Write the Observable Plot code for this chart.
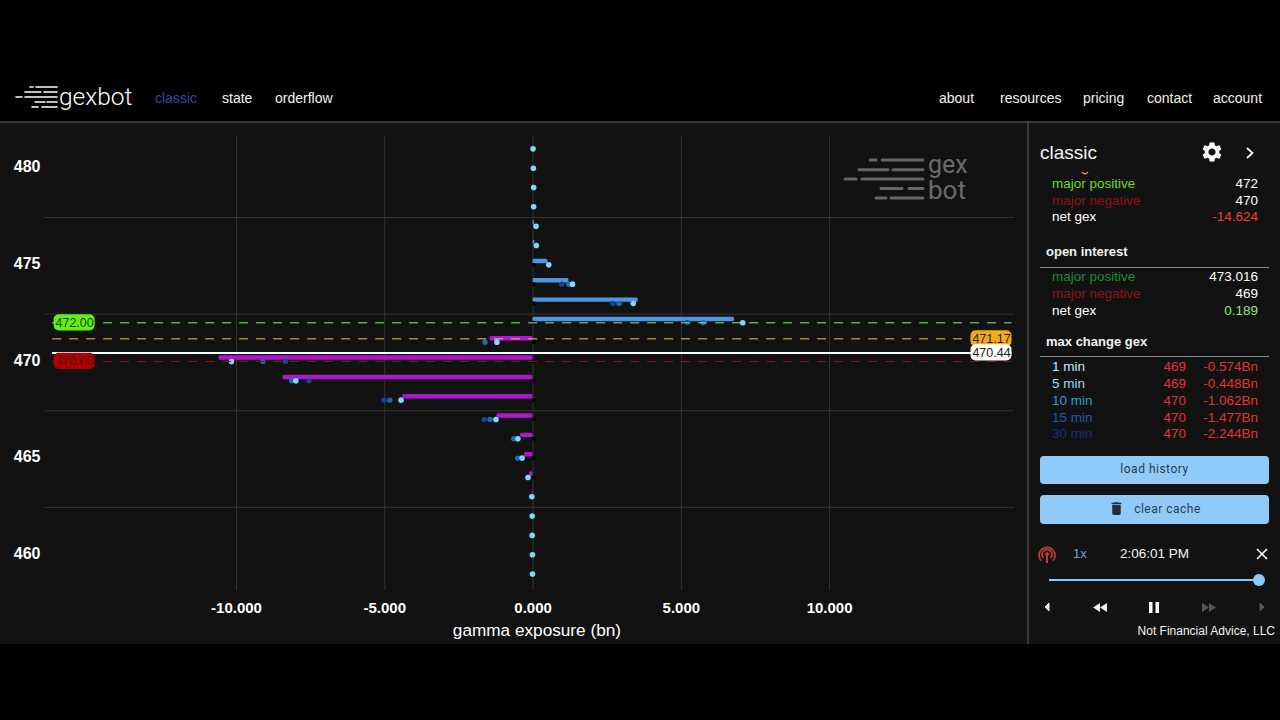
<!DOCTYPE html>
<html>
<head>
<meta charset="utf-8">
<script src="https://cdn.jsdelivr.net/npm/d3@7"></script>
<script src="https://cdn.jsdelivr.net/npm/@observablehq/plot@0.6"></script>
<style>
html,body{margin:0;padding:0;background:#000;width:1280px;height:720px;overflow:hidden;font-family:"Liberation Sans",Arial,sans-serif;color:#fff}
.abs{position:absolute;white-space:nowrap}
#chartbg{position:absolute;left:0;top:123px;width:1280px;height:521px;background:#121212}
#hr{position:absolute;left:0;top:121px;width:1280px;height:2px;background:#3a3a3a}
#vr{position:absolute;left:1027px;top:123px;width:2px;height:521px;background:#3a3a3a}
#chart{position:absolute;left:0;top:123px;width:1028px;height:521px}
#chart svg{background:transparent;display:block}
.nav{font-size:14px;line-height:16px;color:#f2f2f2}
.row{font-size:13.5px;line-height:16px}
.head{font-size:13px;line-height:16px;font-weight:bold;left:1046px;color:#f2f2f2}
.rule{position:absolute;left:1040px;width:229px;height:1px;background:#8a8a8a}
.btn{position:absolute;left:1040px;width:229px;background:#90caf9;border-radius:4px;color:#2b3c4e;font:12px Roboto,sans-serif;letter-spacing:.5px;display:flex;align-items:center;justify-content:center;gap:9px;padding-bottom:2px;box-sizing:border-box}
</style>
</head>
<body>
<div id="chartbg"></div><div id="hr"></div><div id="vr"></div>
<div id="chart"></div>
<div id="ui"></div>
<script>
// ---------- chart data ----------
const strikes   = [481,480,479,478,477,476,475,474,473,472,471,470,469,468,467,466,465,464,463,462,461,460,459];
const netGex    = [0,0,0,0,0.05,0.06,0.5,1.21,3.55,6.79,-1.45,-10.59,-8.43,-4.39,-1.22,-0.42,-0.29,-0.12,-0.03,0,0,0,0];
const dotsFast  = [0,0.01,0.02,0.02,0.1,0.11,0.53,1.33,3.38,7.07,-1.22,-10.17,-8.0,-4.45,-1.25,-0.51,-0.37,-0.17,-0.04,-0.03,-0.03,-0.02,-0.02];
const dotsMid   = [null,null,null,null,null,null,null,1.2,2.9,5.74,-1.62,-9.11,-8.14,-4.83,-1.45,-0.65,-0.52,null,null,null,null,null,null];
const dotsSlow  = [null,null,null,null,null,null,null,0.97,2.69,5.2,null,-8.35,-7.56,-5.03,-1.65,null,null,null,null,null,null,null,null];
const zeroMarks = [475,474,473,472,471,470,469,468,467,466,465,464];
const xTicks    = [-10,-5,0,5,10];
const yTicks    = [460,465,470,475,480];
const yGrid     = [477.45,472.45,467.45,462.45];
const levels    = [
  {value:472,    color:"#8df07c", dash:"9,8"},
  {value:471.17, color:"#f2bc78", dash:"9,8"},
  {value:470.44, color:"#ffffff", dash:null},
  {value:470,    color:"#8a1414", dash:"9,8"}
];
const pills = [
  {value:472,    side:-1, label:"472.00", bg:"#66ee11", fg:"#14500a"},
  {value:470,    side:-1, label:"470.00", bg:"#b00000", fg:"#560000"},
  {value:471.17, side: 1, label:"471.17", bg:"#f5ac14", fg:"#222222"},
  {value:470.44, side: 1, label:"470.44", bg:"#ffffff", fg:"#222222"}
];

// ---------- panel data ----------
const gammaRows = [
  ["major positive","472","#66dd22","#fff",184],
  ["major negative","470","#8c1212","#fff",201],
  ["net gex","-14.624","#fff","#f03c3c",217]
];
const oiRows = [
  ["major positive","473.016","#1f8a2f","#fff",277],
  ["major negative","469","#8c1518","#fff",294],
  ["net gex","0.189","#fff","#86ec86",311]
];
const changeLabels  = ["1 min","5 min","10 min","15 min","30 min"];
const changeColors  = ["#cfe6f7","#95dcf0","#2f97d4","#1a5cae","#14307a"];
const changeStrikes = ["469","469","470","470","470"];
const changeValues  = ["-0.574Bn","-0.448Bn","-1.062Bn","-1.477Bn","-2.244Bn"];
const changeY       = [367,384,401,418,434];
const navLeft  = [["classic",155,"#2c4ea0"],["state",222,"#f2f2f2"],["orderflow",275,"#f2f2f2"]];
const navRight = [["about",939],["resources",1000],["pricing",1083],["contact",1147],["account",1213]];

// ---------- chart ----------
const rows = strikes.map((s,i)=>({strike:s,gex:netGex[i]}));
const bars = rows.filter(d=>d.gex!==0);
const dotSeries = (vals)=>strikes.map((s,i)=>({strike:s,v:vals[i]})).filter(d=>d.v!==null);
const gridColor = "#333333";
const plot = Plot.plot({
  width:1028, height:521,
  marginLeft:44, marginRight:14, marginTop:13, marginBottom:54,
  style:{background:"transparent",fontFamily:'"Liberation Sans",Arial,sans-serif'},
  x:{domain:[-16.475,16.235]},
  y:{domain:[458.15,481.64]},
  marks:[
    Plot.ruleX(xTicks,{stroke:gridColor,strokeWidth:1}),
    Plot.ruleY(yGrid,{stroke:gridColor,strokeWidth:1}),
    Plot.rect(bars,{x1:0,x2:"gex",y1:d=>d.strike+0.29,y2:d=>d.strike+0.06,
      fill:d=>d.gex>0?"#4f94e0":"#ad17cf",rx:1.5}),
    Plot.dot(zeroMarks,{x:0.03,y:d=>d,r:2,fill:"#000"}),
    Plot.dot(dotSeries(dotsSlow),{x:"v",y:"strike",r:2.7,fill:"#17468c"}),
    Plot.dot(dotSeries(dotsMid),{x:"v",y:"strike",r:2.7,fill:"#1a6cb0"}),
    Plot.dot(dotSeries(dotsFast),{x:"v",y:"strike",r:2.8,fill:"#80d8f6"}),
    ...levels.map(l=>Plot.ruleY([l.value],{x1:-16.2,x2:16.15,stroke:l.color,strokeWidth:l.dash?1:2,
      strokeDasharray:l.dash||undefined})),
    Plot.rect(pills,{x1:d=>d.side*15.46-0.69,x2:d=>d.side*15.46+0.69,y1:d=>d.value+0.42,y2:d=>d.value-0.42,
      fill:d=>d.bg,rx:5}),
    Plot.text(pills,{x:d=>d.side*15.46,y:"value",text:"label",fill:d=>d.fg,fontSize:12.5}),
    Plot.axisY({ticks:yTicks,tickSize:0,tickPadding:4,dy:-1,label:null,fontSize:16,fontWeight:"bold",fill:"#fff",color:"#fff"}),
    Plot.axisX({ticks:xTicks,tickSize:0,tickPadding:12,label:null,fontSize:15,fontWeight:"bold",fill:"#fff",color:"#fff",
      tickFormat:d=>d.toFixed(3)}),
    Plot.text(["gamma exposure (bn)"],{x:0.13,y:456.08,text:d=>d,fill:"#fff",fontSize:17.2})
  ]
});
document.getElementById("chart").appendChild(plot);

// ---------- UI chrome ----------
const uiRoot = document.getElementById("ui");
function dashes(list,color,w){
  return list.map(([y,a,b])=>`<line x1="${a}" x2="${b}" y1="${y}" y2="${y}" stroke="${color}" stroke-width="${w}" stroke-linecap="round"/>`).join("");
}
function ltext(t,x,cy,cls,style){
  return `<div class="abs ${cls}" style="left:${x}px;top:${cy-8}px;${style||""}">${t}</div>`;
}
function rtext(t,right,cy,cls,style){
  return `<div class="abs ${cls}" style="right:${1280-right}px;top:${cy-8}px;${style||""}">${t}</div>`;
}
let h = "";
// top-left logo + watermark + sliver of the scrolled-away row
h += `<svg class="abs" style="left:0;top:0" width="1280" height="220">
 ${dashes([[87,30,33],[87,36,57],[92,25,41],[92,44,57],[97,16,22],[97,25,57],[102,35,45],[102,47,57],[107,32,38],[107,42,57]],"#fff",1.6)}
 <text x="59" y="105" font-family="Roboto" font-weight="300" font-size="24.5" fill="#fff">gexbot</text>
 ${dashes([[160,870,876],[160,882,923],[169.7,859,888],[169.7,893,923],[179,845,856],[179,862,923],[188.5,881,902],[188.5,909,923],[198,876,886],[198,891,923]],"#666",3)}
 <text x="928" y="173" font-family="Roboto" font-weight="400" font-size="25" fill="#6a6a6a">gex</text>
 <text x="928" y="199" font-family="Roboto" font-weight="400" font-size="26" fill="#6a6a6a">bot</text>
 <path d="M1082 172 Q1085 175.500 1088 172" fill="none" stroke="#d9a040" stroke-width="1.300"/>
</svg>`;
navLeft.forEach(([t,x,c])=>h+=ltext(t,x,98,"nav",`color:${c}`));
navRight.forEach(([t,x])=>h+=ltext(t,x,98,"nav"));
// panel header
h += ltext("classic",1040,153,"",`font-size:19px;line-height:16px;color:#f2f2f2`);
h += `<svg class="abs" style="left:1200px;top:140px" width="24" height="24" viewBox="0 0 24 24"><path fill="#fff" d="M19.14 12.94c.04-.3.06-.61.06-.94 0-.32-.02-.64-.07-.94l2.03-1.58c.18-.14.23-.41.12-.61l-1.92-3.32c-.12-.22-.37-.29-.59-.22l-2.39.96c-.5-.38-1.03-.7-1.62-.94l-.36-2.54c-.04-.24-.24-.41-.48-.41h-3.84c-.24 0-.43.17-.47.41l-.36 2.54c-.59.24-1.13.57-1.62.94l-2.39-.96c-.22-.08-.47 0-.59.22L2.74 8.87c-.12.21-.08.47.12.61l2.03 1.58c-.05.3-.09.63-.09.94s.02.64.07.94l-2.03 1.58c-.18.14-.23.41-.12.61l1.92 3.32c.12.22.37.29.59.22l2.39-.96c.5.38 1.03.7 1.62.94l.36 2.54c.05.24.24.41.48.41h3.84c.24 0 .44-.17.47-.41l.36-2.54c.59-.24 1.13-.56 1.62-.94l2.39.96c.22.08.47 0 .59-.22l1.92-3.32c.12-.22.07-.47-.12-.61l-2.01-1.58zM12 15.6c-1.98 0-3.6-1.62-3.6-3.6s1.62-3.6 3.6-3.6 3.6 1.62 3.6 3.6-1.62 3.6-3.6 3.6z"/></svg>`;
h += `<svg class="abs" style="left:1242px;top:145px" width="16" height="16"><path d="M5 3 L10.5 8 L5 13" fill="none" stroke="#fff" stroke-width="1.7"/></svg>`;
gammaRows.forEach(([a,b,c,d,y])=>{ h+=ltext(a,1052,y,"row",`color:${c}`); h+=rtext(b,1258,y,"row",`color:${d}`); });
h += ltext("open interest",1046,252,"head");
h += `<div class="rule" style="top:267px"></div>`;
oiRows.forEach(([a,b,c,d,y])=>{ h+=ltext(a,1052,y,"row",`color:${c}`); h+=rtext(b,1258,y,"row",`color:${d}`); });
h += ltext("max change gex",1046,342,"head");
h += `<div class="rule" style="top:356px"></div>`;
changeLabels.forEach((l,i)=>{
  h+=ltext(l,1052,changeY[i],"row",`color:${changeColors[i]}`);
  h+=rtext(changeStrikes[i],1186,changeY[i],"row",`color:#e03434`);
  h+=rtext(changeValues[i],1258,changeY[i],"row",`color:#e03434`);
});
h += `<div class="btn" style="top:456px;height:28px">load history</div>`;
h += `<div class="btn" style="top:495px;height:29px"><svg width="17" height="17" viewBox="0 0 24 24"><path fill="#22303e" d="M6 19c0 1.1.9 2 2 2h8c1.1 0 2-.9 2-2V7H6v12zM19 4h-3.5l-1-1h-5l-1 1H5v2h14V4z"/></svg><span>clear cache</span></div>`;
// player
h += `<svg class="abs" style="left:1036px;top:544px" width="22" height="22" fill="none" stroke="#c23a3a" stroke-width="1.7">
  <circle cx="11" cy="10" r="2" fill="#c23a3a" stroke="none"/><path d="M11 11 V19" stroke-width="2"/>
  <path d="M7.5 14 A5 5 0 1 1 14.5 14"/><path d="M5 16.6 A8 8 0 1 1 17 16.6"/></svg>`;
h += ltext("1x",1073,554,"row",`color:#6aa6d6;font-size:13px`);
h += ltext("2:06:01 PM",1120,554,"row",`font-size:13.5px;color:#f2f2f2`);
h += `<svg class="abs" style="left:1255px;top:547px" width="14" height="14"><path d="M2 2 L12 12 M12 2 L2 12" stroke="#fff" stroke-width="1.7"/></svg>`;
h += `<svg class="abs" style="left:1040px;top:570px" width="230" height="48">
  <line x1="9" x2="219" y1="10" y2="10" stroke="#90caf9" stroke-width="2"/><circle cx="219" cy="10" r="6" fill="#90caf9"/>
  <path d="M9 33 L5 37 L9 41Z" fill="#eee" stroke="#eee"/>
  <path d="M60 33 L53 37.500 L60 42Z M67 33 L60 37.500 L67 42Z" fill="#eee"/>
  <rect x="109" y="32" width="3.500" height="11" fill="#fff"/><rect x="115.500" y="32" width="3.500" height="11" fill="#fff"/>
  <path d="M162 33 L169 37.500 L162 42Z M169 33 L176 37.500 L169 42Z" fill="#555"/>
  <path d="M220 33 L224 37 L220 41Z" fill="#555" stroke="#555"/>
</svg>`;
h += rtext("Not Financial Advice, LLC",1275,631,"",`font-size:12px;line-height:16px;color:#f2f2f2`);
uiRoot.innerHTML = h;
</script>
</body>
</html>
